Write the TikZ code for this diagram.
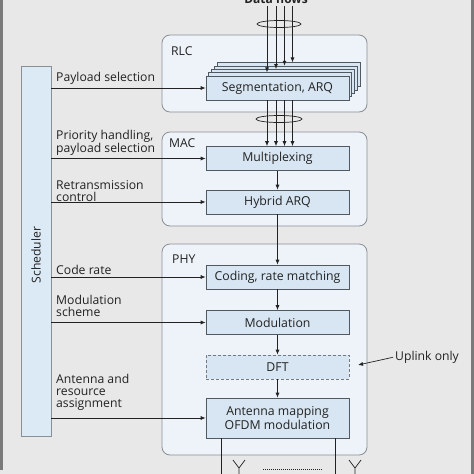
\documentclass[tikz,border=0pt]{standalone}
\usepackage{fontspec}
\setmainfont{Open Sans}
\usetikzlibrary{arrows.meta}

\definecolor{bgGray}{HTML}{E8E8E8}
\definecolor{frameGray}{HTML}{7A7A7A}
\definecolor{grpFill}{HTML}{EEF3F9}
\definecolor{grpLine}{HTML}{8A8F96}
\definecolor{boxFill}{HTML}{D7E6F2}
\definecolor{boxLine}{HTML}{505860}
\definecolor{schFill}{HTML}{DCEAF6}
\definecolor{inkC}{HTML}{222222}

\tikzstyle{grpS}=[rectangle,rounded corners=8pt,draw=grpLine,fill=grpFill,line width=0.8pt,minimum width=205pt,inner sep=0pt]
\tikzstyle{bS}=[rectangle,draw=boxLine,fill=boxFill,line width=0.7pt,minimum width=143pt,minimum height=24pt,inner sep=0pt,font=\fontsize{12.3}{12}\selectfont,text=inkC,align=center]
\tikzstyle{tS}=[inner sep=0pt,font=\fontsize{12.2}{12}\selectfont,text=inkC,align=left,anchor=base west]
\tikzstyle{aS}=[draw=inkC,line width=0.7pt,-{Latex[length=5pt,width=4pt]}]
\tikzstyle{lS}=[draw=inkC,line width=0.7pt]

\begin{document}
\begin{tikzpicture}[x=1pt,y=-1pt]
                \useasboundingbox (0,0) rectangle (474,474);
                \fill[bgGray] (0,0) rectangle (474,474);
                \fill[frameGray] (0,0) rectangle (3,470);
                \fill[frameGray] (470.5,0) rectangle (473.5,474);
                \draw (276,3) node[anchor=base,inner sep=0pt,text=inkC,font=\bfseries\fontsize{12}{12}\selectfont] (df) {Data flows};
                % layers
                \draw (264.5,73.5) node[grpS,minimum height=77pt] (rlc) {};
                \draw (264.5,179) node[grpS,minimum height=94pt] (mac) {};
                \draw (264.5,349.5) node[grpS,minimum height=211pt] (phy) {};
                \draw (171,55) node[tS] (rlcL) {RLC};
                \draw (169,147) node[tS] (macL) {MAC};
                \draw (172,263) node[tS] (phyL) {PHY};
                % scheduler
                \draw (36,251) node[rectangle,draw=grpLine,fill=schFill,line width=0.8pt,minimum width=30pt,minimum height=370pt] (sched) {};
                \draw (36,255) node[rotate=90,inner sep=0pt,text=inkC,font=\fontsize{12.2}{12}\selectfont] (schedL) {Scheduler};
                % processing blocks
                \draw (288.7,74.8) node[bS] (sb4) {};
                \draw (285.9,78.1) node[bS] (sb3) {};
                \draw (283.1,81.4) node[bS] (sb2) {};
                \draw (280.3,84.7) node[bS] (sb1) {};
                \draw (277.5,88) node[bS] (seg) {Segmentation, ARQ};
                \draw (277.5,158.5) node[bS] (mux) {Multiplexing};
                \draw (277.5,202) node[bS] (harq) {Hybrid ARQ};
                \draw (277.5,277) node[bS] (code) {Coding, rate matching};
                \draw (277.5,322.5) node[bS] (mod) {Modulation};
                \draw (277.5,367) node[bS,draw=boxLine!80,dash pattern=on 3pt off 2pt] (dft) {DFT};
                \draw (277.5,418) node[bS,minimum height=40pt] (ant) {Antenna mapping\\OFDM modulation};
                % data flows
                \coordinate (f1) at (267,6);
                \coordinate (f2) at (276,6);
                \coordinate (f3) at (284.5,6);
                \coordinate (f4) at (292.5,6);
                \draw[lS] (279,24) ellipse (22 and 3.5);
                \draw[lS] (279,119) ellipse (23 and 3.5);
                \path
                    (f1) edge[aS] (f1 |- sb1.north)
                    (f2) edge[aS] (f2 |- sb2.north)
                    (f3) edge[aS] (f3 |- sb3.north)
                    (f4) edge[aS] (f4 |- sb4.north)
                    (f1 |- seg.south) edge[aS] (f1 |- mux.north)
                    (f2 |- seg.south) edge[aS] (f2 |- mux.north)
                    (f3 |- seg.south) edge[aS] (f3 |- mux.north)
                    (f4 |- seg.south) edge[aS] (f4 |- mux.north)
                    (mux) edge[aS] (harq)
                    (harq) edge[aS] (code)
                    (code) edge[aS] (mod)
                    (mod) edge[aS] (dft)
                    (dft) edge[aS] (ant)
                ;
                % control from scheduler
                \draw (56,81.7) node[tS] (c1) {Payload selection};
                \draw (56,152.7) node[tS] (c2) {Priority handling,\\payload selection};
                \draw (56,201.7) node[tS] (c3) {Retransmission\\control};
                \draw (56,274) node[tS] (c4) {Code rate};
                \draw (56,316) node[tS] (c5) {Modulation\\scheme};
                \draw (56,407) node[tS] (c6) {Antenna and\\resource\\assignment};
                \path
                    (sched.east |- seg.west) edge[aS] (seg.west)
                    (sched.east |- mux.west) edge[aS] (mux.west)
                    (sched.east |- harq.west) edge[aS] (harq.west)
                    (sched.east |- code.west) edge[aS] (code.west)
                    (sched.east |- mod.west) edge[aS] (mod.west)
                    (sched.east |- ant.west) edge[aS] (ant.west)
                ;
                % uplink note
                \draw (395,360) node[tS] (upl) {Uplink only};
                \coordinate (ulTip) at (358,365);
                \draw[aS,shorten <=2pt] (upl.west) -- (ulTip);
                % antennas
                \coordinate (a1) at (221,480);
                \coordinate (a2) at (335,480);
                \draw[lS] (ant.south -| a1) -- (a1);
                \draw[lS] (ant.south -| a2) -- (a2);
                \draw[lS] (233,460) -- (239,468) -- (245,460) (239,468) -- (239,476);
                \draw[lS] (349,460) -- (355,468) -- (361,460) (355,468) -- (355,476);
                \draw[lS,dash pattern=on 1pt off 1pt] (263,469) -- (322,469);
        \end{tikzpicture}
\end{document}
